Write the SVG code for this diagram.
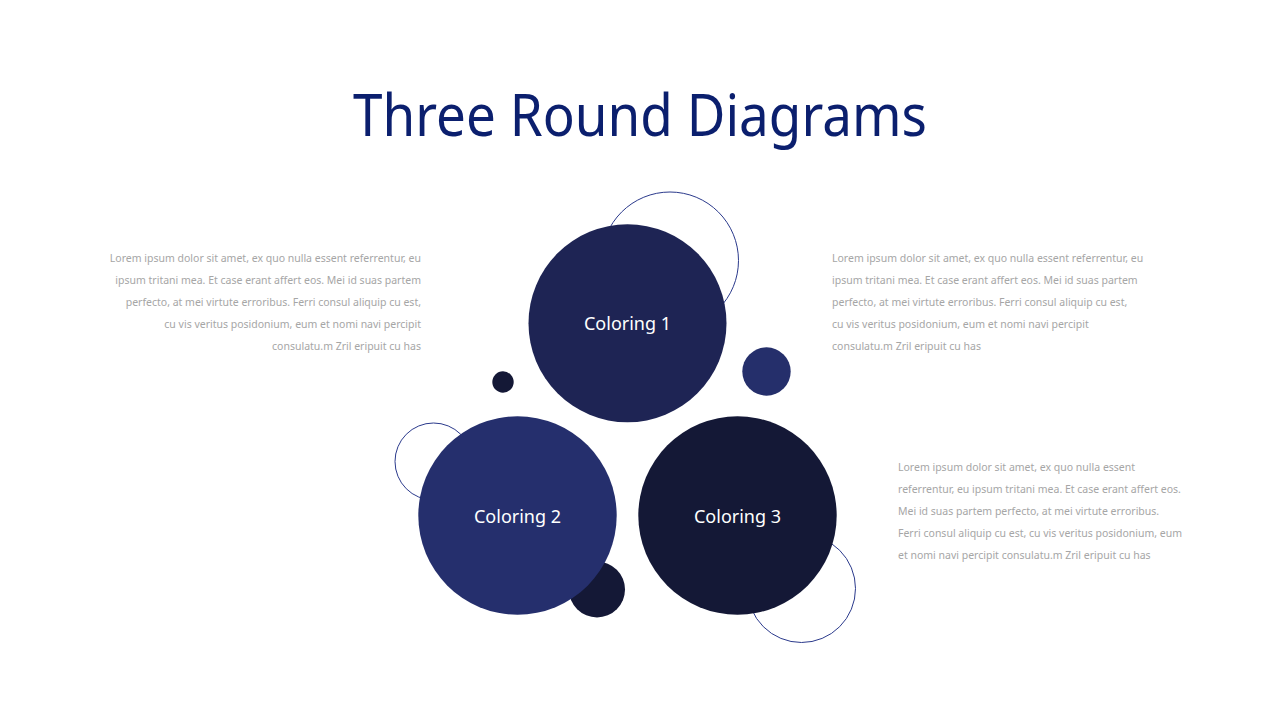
<svg xmlns="http://www.w3.org/2000/svg" width="1280" height="720" viewBox="0 0 1280 720">
<style>
.title{font-family:"Noto Sans","Open Sans",sans-serif;font-size:58px;fill:#0B1F6E;}
.body{font-family:"Noto Sans","Open Sans",sans-serif;font-size:10.5px;fill:#A6A6A6;}
.label{font-family:"Noto Sans","Open Sans",sans-serif;font-size:18px;fill:#FFFFFF;text-anchor:middle;}
.ring{fill:none;stroke:#2B3A8C;stroke-width:1;}
</style>
<rect width="1280" height="720" fill="#FFFFFF"/>
<text class="title" x="640" y="136" text-anchor="middle" textLength="574" lengthAdjust="spacingAndGlyphs">Three Round Diagrams</text>

<g id="decor">
<circle class="ring" cx="670" cy="260.5" r="68.5"/>
<circle class="ring" cx="433.5" cy="461.5" r="38.5"/>
<circle class="ring" cx="801.5" cy="588.5" r="54"/>
<circle cx="503" cy="382" r="10.7" fill="#141836"/>
<circle cx="766.5" cy="371.5" r="24.2" fill="#252F6B"/>
<circle cx="597" cy="589.5" r="28" fill="#141836"/>
</g>

<g id="node1">
<circle cx="627.5" cy="323.3" r="99" fill="#1E2454"/>
<text class="label" x="627.5" y="330">Coloring 1</text>
</g>
<g id="node2">
<circle cx="517.5" cy="515.5" r="99.2" fill="#252F6D"/>
<text class="label" x="517.5" y="522.5">Coloring 2</text>
</g>
<g id="node3">
<circle cx="737.5" cy="515.5" r="99.2" fill="#141836"/>
<text class="label" x="737.5" y="522.5">Coloring 3</text>
</g>

<g id="connectors"></g>

<g id="text-left" class="body" text-anchor="end">
<text x="421" y="262">Lorem ipsum dolor sit amet, ex quo nulla essent referrentur, eu</text>
<text x="421" y="284">ipsum tritani mea. Et case erant affert eos. Mei id suas partem</text>
<text x="421" y="306">perfecto, at mei virtute erroribus. Ferri consul aliquip cu est,</text>
<text x="421" y="328">cu vis veritus posidonium, eum et nomi navi percipit</text>
<text x="421" y="350">consulatu.m Zril eripuit cu has</text>
</g>
<g id="text-right" class="body">
<text x="832" y="262">Lorem ipsum dolor sit amet, ex quo nulla essent referrentur, eu</text>
<text x="832" y="284">ipsum tritani mea. Et case erant affert eos. Mei id suas partem</text>
<text x="832" y="306">perfecto, at mei virtute erroribus. Ferri consul aliquip cu est,</text>
<text x="832" y="328">cu vis veritus posidonium, eum et nomi navi percipit</text>
<text x="832" y="350">consulatu.m Zril eripuit cu has</text>
</g>
<g id="text-bottom" class="body">
<text x="898" y="471">Lorem ipsum dolor sit amet, ex quo nulla essent</text>
<text x="898" y="493">referrentur, eu ipsum tritani mea. Et case erant affert eos.</text>
<text x="898" y="515">Mei id suas partem perfecto, at mei virtute erroribus.</text>
<text x="898" y="537">Ferri consul aliquip cu est, cu vis veritus posidonium, eum</text>
<text x="898" y="559">et nomi navi percipit consulatu.m Zril eripuit cu has</text>
</g>
</svg>
